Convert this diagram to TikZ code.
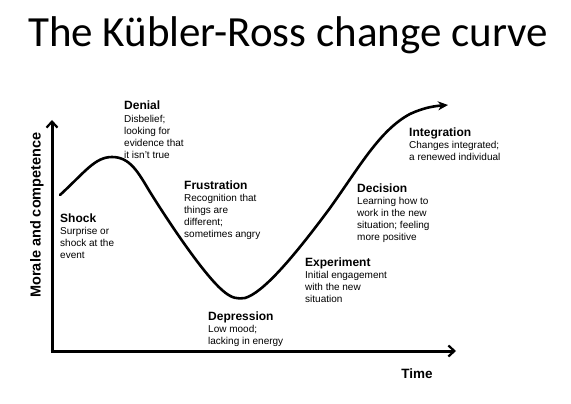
\documentclass[tikz,border=0pt]{standalone}
\usepackage{fontspec}
\setmainfont{Liberation Sans}
\newfontfamily\titlefont{Carlito}
\usetikzlibrary{arrows.meta}
\tikzset{
  stagehead/.style={anchor=base west, inner sep=0pt, font=\fontsize{12}{14}\selectfont\bfseries},
  stagetext/.style={anchor=north west, inner sep=0pt, align=left, font=\fontsize{10}{12}\selectfont},
  axis/.style={line width=3pt, -{Straight Barb[length=6pt, width=11pt, line width=2.2pt]}}
}
\begin{document}
\begin{tikzpicture}[x=1pt, y=-1pt]
  \useasboundingbox (0,0) rectangle (571,404);
  \node[anchor=base west, inner sep=0pt, font=\titlefont\fontsize{43}{48}\selectfont] (title) at (28,47) {The Kübler-Ross change curve};
  % axes
  \coordinate (origin) at (52,351);
  \coordinate (ytop) at (52,120);
  \coordinate (xend) at (456,351);
  \draw[axis] (52,352.5) -- (ytop);
  \draw[axis] (50.5,351) -- (xend);
  \node[rotate=90, font=\fontsize{14.5}{16}\selectfont\bfseries] (ylabel) at (37,215) {Morale and competence};
  \node[font=\fontsize{13.5}{15}\selectfont\bfseries] (xlabel) at (417,374) {Time};
  % curve
  \draw[line width=2.6pt, line cap=round, -{Stealth[length=10pt, width=9pt]}]
    (60,195) .. controls (85,172) and (95,157) .. (112,157)
    .. controls (130,157) and (138,172) .. (150,192)
    .. controls (175,232) and (205,275) .. (222,290)
    .. controls (232,299) and (238,299) .. (245,298)
    .. controls (262,293) and (290,262) .. (330,208)
    .. controls (360,166) and (380,130) .. (410,114)
    .. controls (425,107) and (436,106) .. (448,105);
  % stages
  \node[stagehead] (shock) at (60,222) {Shock};
  \node[stagetext] (shocktext) at (60,227) {Surprise or\\shock at the\\event};
  \node[stagehead] (denial) at (124,110) {Denial};
  \node[stagetext] (denialtext) at (124,115) {Disbelief;\\looking for\\evidence that\\it isn’t true};
  \node[stagehead] (frustration) at (184,189) {Frustration};
  \node[stagetext] (frustrationtext) at (184,194) {Recognition that\\things are\\different;\\sometimes angry};
  \node[stagehead] (depression) at (208,320) {Depression};
  \node[stagetext] (depressiontext) at (208,325) {Low mood;\\lacking in energy};
  \node[stagehead] (experiment) at (305,266) {Experiment};
  \node[stagetext] (experimenttext) at (305,271) {Initial engagement\\with the new\\situation};
  \node[stagehead] (decision) at (357,192) {Decision};
  \node[stagetext] (decisiontext) at (357,197) {Learning how to\\work in the new\\situation; feeling\\more positive};
  \node[stagehead] (integration) at (409,136) {Integration};
  \node[stagetext] (integrationtext) at (409,141) {Changes integrated;\\a renewed individual};
\end{tikzpicture}
\end{document}
